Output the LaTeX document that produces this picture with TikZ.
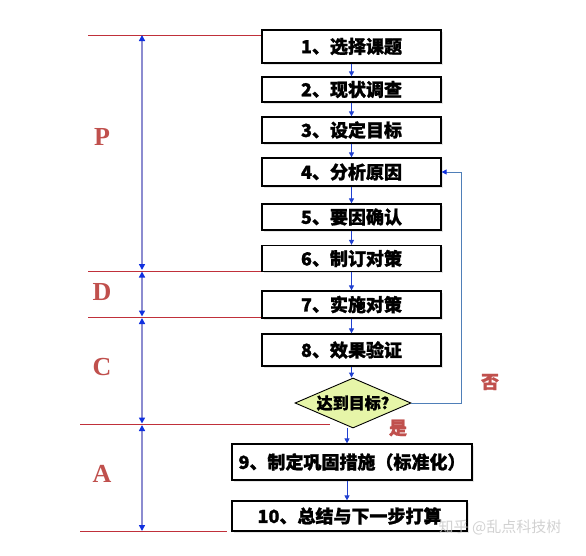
\documentclass[tikz,border=0pt]{standalone}
\usepackage{fontspec}
\setmainfont{Liberation Serif}
\newfontfamily\cjk{Noto Sans CJK SC}[BoldFeatures={FakeBold=1.2}]
\newfontfamily\cjkw{Noto Sans CJK SC}
\usetikzlibrary{arrows.meta,shapes.geometric,shadows}
\definecolor{redline}{HTML}{C0303A}
\definecolor{pdca}{HTML}{C0504D}
\definecolor{vline}{HTML}{8C8CD0}
\definecolor{tipblue}{HTML}{1030E0}
\definecolor{stepblue}{HTML}{2040D0}
\definecolor{fb}{HTML}{4F7FB8}
\definecolor{dfill}{HTML}{E6F5A8}
\begin{document}
\begin{tikzpicture}[x=1pt,y=-1pt,
  stepbox/.style={draw=black, line width=1.2pt, fill=white, minimum width=179pt, inner sep=0pt,
    font=\cjk\bfseries\fontsize{18}{18}\selectfont,
    drop shadow={shadow xshift=1.5pt, shadow yshift=-1.5pt, opacity=0.2}},
  decide/.style={diamond, draw=black, line width=0.9pt, fill=dfill, aspect=2.4, inner sep=0pt,
    minimum width=116pt, minimum height=50pt, font=\cjk\bfseries\fontsize{16}{16}\selectfont},
  steparrow/.style={draw=stepblue, line width=0.9pt, -{Triangle[length=5pt,width=5pt]}},
  redl/.style={draw=redline, line width=0.8pt},
  vseg/.style={draw=vline, line width=1.6pt, {Triangle[color=tipblue,length=6pt,width=6pt]}-{Triangle[color=tipblue,length=6pt,width=6pt]}},
  phase/.style={text=pdca, font=\bfseries\fontsize{26}{26}\selectfont},
  yn/.style={text=pdca, font=\cjk\bfseries\fontsize{18}{18}\selectfont}]
\useasboundingbox (0,0) rectangle (586,555);

% step boxes
\node[stepbox, minimum height=33pt] (b1) at (351.5,46.5) {1、选择课题};
\node[stepbox, minimum height=25pt] (b2) at (351.5,89.5) {2、现状调查};
\node[stepbox, minimum height=26pt] (b3) at (351.5,130) {3、设定目标};
\node[stepbox, minimum height=28pt] (b4) at (351.5,172) {4、分析原因};
\node[stepbox, minimum height=26pt] (b5) at (351.5,217) {5、要因确认};
\node[stepbox, minimum height=26pt] (b6) at (351.5,258.5) {6、制订对策};
\node[stepbox, minimum height=27pt] (b7) at (351.5,304.5) {7、实施对策};
\node[stepbox, minimum height=32pt] (b8) at (351.5,350) {8、效果验证};
\node[decide] (d) at (353,403) {达到目标?};
\node[stepbox, minimum width=240pt, minimum height=36pt] (b9) at (352,462) {9、制定巩固措施（标准化）};
\node[stepbox, minimum width=235pt, minimum height=30pt] (b10) at (349.5,516) {10、总结与下一步打算};

% step arrows
\coordinate (ax) at (347,0);
\draw[steparrow] (b1.south) -- (b2.north);
\draw[steparrow] (b2.south) -- (b3.north);
\draw[steparrow] (b3.south) -- (b4.north);
\draw[steparrow] (b4.south) -- (b5.north);
\draw[steparrow] (b5.south) -- (b6.north);
\draw[steparrow] (b6.south) -- (b7.north);
\draw[steparrow] (b7.south) -- (b8.north);
\draw[steparrow] (b8.south) -- (b8.south |- d.north);
\draw[steparrow] (d.south -| ax) -- (b9.north -| ax);
\draw[steparrow] (b9.south -| ax) -- (b10.north -| ax);

% feedback
\coordinate (fbc) at (461,403);
\draw[fb, line width=1pt, -{Triangle[color=tipblue,length=5pt,width=5pt]}] (d.east) -- (fbc) |- (b4.east);
\node[yn] (no) at (490,382) {否};
\node[yn] (yes) at (398,428) {是};

% phase red lines
\coordinate (r1) at (88,35);
\coordinate (r2) at (88,271);
\coordinate (r3) at (88,317);
\coordinate (r4) at (80,424);
\coordinate (r4e) at (330,424);
\coordinate (r5) at (80,531);
\coordinate (r5e) at (227,531);
\draw[redl] (r1) -- (r1 -| b1.west);
\draw[redl] (r2) -- (r2 -| b6.west);
\draw[redl] (r3) -- (r3 -| b7.west);
\draw[redl] (r4) -- (r4e);
\draw[redl] (r5) -- (r5e);

% vertical dimension arrows
\coordinate (m1) at (142,35);
\coordinate (m2a) at (142,270);
\coordinate (m2b) at (142,271.5);
\coordinate (m3a) at (142,316.5);
\coordinate (m3b) at (142,318);
\coordinate (m4a) at (142,423.5);
\coordinate (m4b) at (142,425);
\coordinate (m5) at (142,531);
\draw[vseg] (m1) -- (m2a);
\draw[vseg] (m2b) -- (m3a);
\draw[vseg] (m3b) -- (m4a);
\draw[vseg] (m4b) -- (m5);

% phase letters
\node[phase] (P) at (102,137) {P};
\node[phase] (D) at (102,292) {D};
\node[phase] (C) at (102,367) {C};
\node[phase] (A) at (102,474) {A};

% watermark
\node[text=gray!45, font=\cjkw\fontsize{15}{15}\selectfont, opacity=0.8] (wm) at (500,527) {知乎 @乱点科技树};
\end{tikzpicture}
\end{document}
